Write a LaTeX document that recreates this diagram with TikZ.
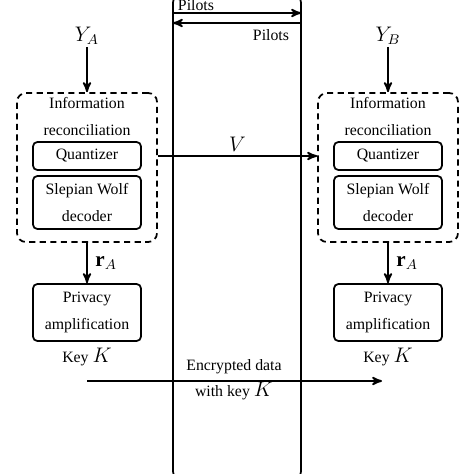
\documentclass[tikz,border=0pt]{standalone}
\usepackage{fontspec}
\setmainfont{Liberation Serif}
\usepackage{amsmath}
\usetikzlibrary{arrows}
\usetikzlibrary{calc}

\tikzset{
 blk/.style={draw, line width=1pt, rounded corners=2.5pt, minimum width=2.16cm, align=center, inner sep=1pt},
 irbox/.style={draw, line width=1pt, dashed, dash pattern=on 3.5pt off 2.5pt, rounded corners=5pt, minimum width=2.8cm, minimum height=2.98cm},
 lbl/.style={align=center, inner sep=1pt},
 sig/.style={line width=1pt, ->, >=stealth'}
}

\begin{document}
\begin{tikzpicture}[x=0.02cm, y=-0.02cm, font=\fontsize{9}{15}\selectfont]
\clip (0,0) rectangle (474,474);
\fill[white] (0,0) rectangle (474,474);
% channel
\draw[line width=1pt, rounded corners=6pt] (173,-8) rectangle (301,482);
\node[lbl, inner sep=0pt] (pilotsAB) at (196,5) {Pilots};
\node[lbl] (pilotsBA) at (271,35) {Pilots};
\coordinate (chL1) at (173,13);
\coordinate (chR1) at (301,13);
\coordinate (chL2) at (173,23);
\coordinate (chR2) at (301,23);
\draw[sig] (chL1) -- (chR1);
\draw[sig] (chR2) -- (chL2);
% Alice and Bob
\foreach \s/\x/\who in {A/87/A, B/388/B} {
 \node[lbl, font=\large] (Y\s) at (\x,36) {$Y_{\who}$};
 \node[irbox] (ir\s) at (\x,167.5) {};
 \node[lbl] (irt\s) at (\x,116.5) {Information\\reconciliation};
 \node[blk, minimum height=0.56cm] (q\s) at (\x,156) {Quantizer};
 \node[blk, minimum height=1.06cm] (sw\s) at (\x,202.5) {Slepian Wolf\\decoder};
 \node[blk, minimum height=1.14cm] (pa\s) at (\x,312.5) {Privacy\\amplification};
 \node[lbl] (key\s) at (\x,357) {Key \large$K$};
 \draw[sig] (Y\s) -- (ir\s.north);
 \draw[sig] (ir\s.south) -- node[right, xshift=1pt, font=\large] {$\mathbf{r}_A$} (pa\s.north);
}
\draw[sig] (irA.east |- qA) -- node[above, font=\large, yshift=-1pt] {$V$} (irB.west |- qA);
% encrypted data
\coordinate (encA) at (87,381);
\coordinate (encB) at (382,381);
\draw[sig] (encA) -- (encB);
\node[lbl] (enc) at (234,380) {Encrypted data\\with key \large$K$};
\end{tikzpicture}
\end{document}
